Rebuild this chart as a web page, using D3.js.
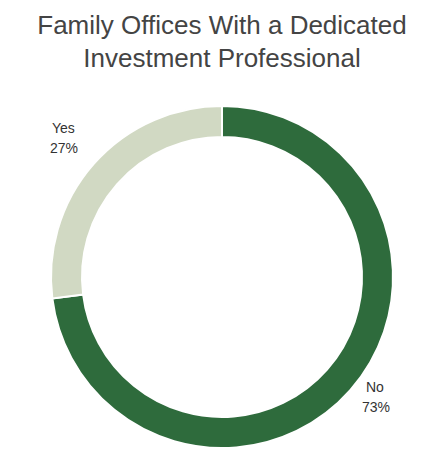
<!DOCTYPE html>
<html>
<head>
<meta charset="utf-8">
<script src="https://cdn.jsdelivr.net/npm/d3@7"></script>
<style>
  body { margin: 0; background: #fff; }
  text { font-family: "Liberation Sans", Arial, sans-serif; }
</style>
</head>
<body>
<svg id="chart" width="444" height="465"></svg>
<script>
const categories = ['No', 'Yes'];
const values = [73, 27];
const colors = ['#2e6b3c', '#d1d9c3'];
const titleLines = ['Family Offices With a Dedicated', 'Investment Professional'];

const svg = d3.select('#chart');
const cx = 222, cy = 277;
const outerR = 171, innerR = 140;

// titulo
svg.selectAll('text.title')
  .data(titleLines)
  .join('text')
  .attr('class', 'title')
  .attr('x', cx)
  .attr('y', (d, i) => 34 + i * 33)
  .attr('text-anchor', 'middle')
  .attr('font-size', 26)
  .attr('fill', '#444')
  .style('font-family', '"Liberation Sans Narrow", "Liberation Sans", sans-serif')
  .text(d => d);

const pie = d3.pie().sort(null).value(d => d);
const arc = d3.arc().innerRadius(innerR).outerRadius(outerR);
const arcs = pie(values);

const g = svg.append('g').attr('transform', `translate(${cx},${cy})`);
g.selectAll('path')
  .data(arcs)
  .join('path')
  .attr('d', arc)
  .attr('fill', (d, i) => colors[i])
  .attr('stroke', '#fff')
  .attr('stroke-width', 2);

// etiquetas
const labelPos = [[366, 392], [52, 133]];
const lbl = svg.selectAll('g.lbl')
  .data(categories)
  .join('g')
  .attr('class', 'lbl')
  .attr('transform', (d, i) => `translate(${labelPos[i][0]},${labelPos[i][1]})`);
lbl.append('text')
  .attr('font-size', 14).attr('fill', '#333')
  .text(d => d);
lbl.append('text')
  .attr('y', 20).attr('x', (d, i) => i === 1 ? -2 : -4)
  .attr('font-size', 14).attr('fill', '#333')
  .text((d, i) => values[i] + '%');
</script>
</body>
</html>
